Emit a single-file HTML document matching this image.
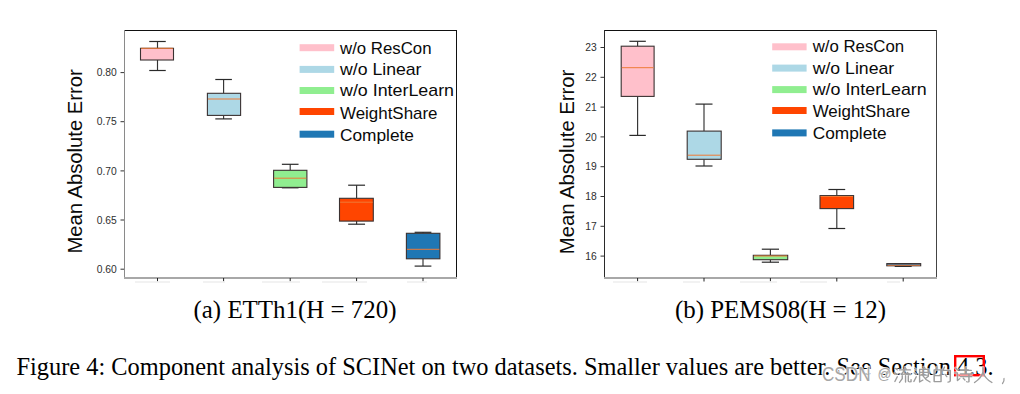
<!DOCTYPE html>
<html><head><meta charset="utf-8"><style>
html,body{margin:0;padding:0;background:#fff;width:1020px;height:394px;overflow:hidden}
svg{display:block}
</style></head><body>
<svg width="1020" height="394" viewBox="0 0 1020 394">
<line x1="157.5" y1="41.5" x2="157.5" y2="48.3" stroke="#333" stroke-width="1.15"/>
<line x1="157.5" y1="60.0" x2="157.5" y2="70.5" stroke="#333" stroke-width="1.15"/>
<line x1="149.25" y1="41.5" x2="165.75" y2="41.5" stroke="#2a2a2a" stroke-width="1.2"/>
<line x1="149.25" y1="70.5" x2="165.75" y2="70.5" stroke="#2a2a2a" stroke-width="1.2"/>
<rect x="140.5" y="48.3" width="33.0" height="11.700000000000003" fill="#ffc0cb" stroke="#3a3232" stroke-width="1.1"/>
<line x1="141.1" y1="48.3" x2="172.9" y2="48.3" stroke="#ee7a36" stroke-width="1.0"/>
<line x1="223.6" y1="79.5" x2="223.6" y2="93.3" stroke="#333" stroke-width="1.15"/>
<line x1="223.6" y1="115.4" x2="223.6" y2="118.9" stroke="#333" stroke-width="1.15"/>
<line x1="215.3" y1="79.5" x2="231.89999999999998" y2="79.5" stroke="#2a2a2a" stroke-width="1.2"/>
<line x1="215.3" y1="118.9" x2="231.89999999999998" y2="118.9" stroke="#2a2a2a" stroke-width="1.2"/>
<rect x="207.4" y="93.3" width="33.19999999999999" height="22.10000000000001" fill="#add8e6" stroke="#3a3232" stroke-width="1.1"/>
<line x1="208.0" y1="99.0" x2="240.0" y2="99.0" stroke="#ee7a36" stroke-width="1.0"/>
<line x1="290.2" y1="164.3" x2="290.2" y2="170.3" stroke="#333" stroke-width="1.15"/>
<line x1="290.2" y1="187.4" x2="290.2" y2="187.8" stroke="#333" stroke-width="1.15"/>
<line x1="281.875" y1="164.3" x2="298.525" y2="164.3" stroke="#2a2a2a" stroke-width="1.2"/>
<line x1="281.875" y1="187.8" x2="298.525" y2="187.8" stroke="#2a2a2a" stroke-width="1.2"/>
<rect x="273.6" y="170.3" width="33.299999999999955" height="17.099999999999994" fill="#90ee90" stroke="#3a3232" stroke-width="1.1"/>
<line x1="274.20000000000005" y1="178.2" x2="306.29999999999995" y2="178.2" stroke="#ee7a36" stroke-width="1.0"/>
<line x1="356.6" y1="185.2" x2="356.6" y2="198.3" stroke="#333" stroke-width="1.15"/>
<line x1="356.6" y1="221.1" x2="356.6" y2="224.2" stroke="#333" stroke-width="1.15"/>
<line x1="348.15000000000003" y1="185.2" x2="365.05" y2="185.2" stroke="#2a2a2a" stroke-width="1.2"/>
<line x1="348.15000000000003" y1="224.2" x2="365.05" y2="224.2" stroke="#2a2a2a" stroke-width="1.2"/>
<rect x="339.5" y="198.3" width="33.80000000000001" height="22.799999999999983" fill="#ff4500" stroke="#3a3232" stroke-width="1.1"/>
<line x1="340.1" y1="202.2" x2="372.7" y2="202.2" stroke="#ee7a36" stroke-width="1.0"/>
<line x1="423.0" y1="232.3" x2="423.0" y2="233.3" stroke="#333" stroke-width="1.15"/>
<line x1="423.0" y1="258.8" x2="423.0" y2="266.1" stroke="#333" stroke-width="1.15"/>
<line x1="414.625" y1="232.3" x2="431.375" y2="232.3" stroke="#2a2a2a" stroke-width="1.2"/>
<line x1="414.625" y1="266.1" x2="431.375" y2="266.1" stroke="#2a2a2a" stroke-width="1.2"/>
<rect x="406.4" y="233.3" width="33.5" height="25.5" fill="#1f77b4" stroke="#3a3232" stroke-width="1.1"/>
<line x1="407.0" y1="249.3" x2="439.29999999999995" y2="249.3" stroke="#ee7a36" stroke-width="1.0"/>
<rect x="124" y="30" width="333" height="1" fill="#111"/>
<rect x="456" y="30" width="1" height="248" fill="#111"/>
<rect x="124" y="30" width="1" height="248" fill="#8a8a8a"/>
<rect x="124" y="277" width="333" height="2" fill="#a8a8a8"/>
<line x1="120.5" y1="72.6" x2="124" y2="72.6" stroke="#333" stroke-width="1.0"/>
<text x="116.8" y="76.3" font-family="Liberation Sans" font-size="10.3" text-anchor="end" fill="#2e2e2e">0.80</text>
<line x1="120.5" y1="121.7" x2="124" y2="121.7" stroke="#333" stroke-width="1.0"/>
<text x="116.8" y="125.4" font-family="Liberation Sans" font-size="10.3" text-anchor="end" fill="#2e2e2e">0.75</text>
<line x1="120.5" y1="170.9" x2="124" y2="170.9" stroke="#333" stroke-width="1.0"/>
<text x="116.8" y="174.6" font-family="Liberation Sans" font-size="10.3" text-anchor="end" fill="#2e2e2e">0.70</text>
<line x1="120.5" y1="220.0" x2="124" y2="220.0" stroke="#333" stroke-width="1.0"/>
<text x="116.8" y="223.7" font-family="Liberation Sans" font-size="10.3" text-anchor="end" fill="#2e2e2e">0.65</text>
<line x1="120.5" y1="269.2" x2="124" y2="269.2" stroke="#333" stroke-width="1.0"/>
<text x="116.8" y="272.9" font-family="Liberation Sans" font-size="10.3" text-anchor="end" fill="#2e2e2e">0.60</text>
<line x1="157.5" y1="278" x2="157.5" y2="281.5" stroke="#222" stroke-width="1.0"/>
<line x1="223.6" y1="278" x2="223.6" y2="281.5" stroke="#222" stroke-width="1.0"/>
<line x1="290.2" y1="278" x2="290.2" y2="281.5" stroke="#222" stroke-width="1.0"/>
<line x1="356.6" y1="278" x2="356.6" y2="281.5" stroke="#222" stroke-width="1.0"/>
<line x1="423.0" y1="278" x2="423.0" y2="281.5" stroke="#222" stroke-width="1.0"/>
<rect x="299.6" y="44.2" width="34.599999999999966" height="7" fill="#ffc0cb"/>
<text x="340.0" y="53.7" font-family="Liberation Sans" font-size="16.6" text-anchor="start" fill="#0a0a0a" textLength="91.5" lengthAdjust="spacingAndGlyphs">w/o ResCon</text>
<rect x="299.6" y="65.9" width="34.599999999999966" height="7" fill="#add8e6"/>
<text x="340.0" y="75.2" font-family="Liberation Sans" font-size="16.6" text-anchor="start" fill="#0a0a0a" textLength="81.5" lengthAdjust="spacingAndGlyphs">w/o Linear</text>
<rect x="299.6" y="87.0" width="34.599999999999966" height="7" fill="#90ee90"/>
<text x="340.0" y="95.7" font-family="Liberation Sans" font-size="16.6" text-anchor="start" fill="#0a0a0a" textLength="114" lengthAdjust="spacingAndGlyphs">w/o InterLearn</text>
<rect x="299.6" y="108.0" width="34.599999999999966" height="7" fill="#ff4500"/>
<text x="340.0" y="118.5" font-family="Liberation Sans" font-size="16.6" text-anchor="start" fill="#0a0a0a" textLength="97.5" lengthAdjust="spacingAndGlyphs">WeightShare</text>
<rect x="299.6" y="130.7" width="34.599999999999966" height="7" fill="#1f77b4"/>
<text x="340.0" y="140.8" font-family="Liberation Sans" font-size="16.6" text-anchor="start" fill="#0a0a0a" textLength="74" lengthAdjust="spacingAndGlyphs">Complete</text>
<text transform="translate(82.0,253.5) rotate(-90)" x="0" y="0" font-family="Liberation Sans" font-size="19.4" fill="#0a0a0a"  textLength="184.2" lengthAdjust="spacingAndGlyphs">Mean Absolute Error</text>
<line x1="637.6" y1="41.3" x2="637.6" y2="46.2" stroke="#333" stroke-width="1.15"/>
<line x1="637.6" y1="96.4" x2="637.6" y2="135.4" stroke="#333" stroke-width="1.15"/>
<line x1="629.375" y1="41.3" x2="645.825" y2="41.3" stroke="#2a2a2a" stroke-width="1.2"/>
<line x1="629.375" y1="135.4" x2="645.825" y2="135.4" stroke="#2a2a2a" stroke-width="1.2"/>
<rect x="621.2" y="46.2" width="32.89999999999998" height="50.2" fill="#ffc0cb" stroke="#3a3232" stroke-width="1.1"/>
<line x1="621.8000000000001" y1="67.7" x2="653.5" y2="67.7" stroke="#ee7a36" stroke-width="1.0"/>
<line x1="704.0" y1="104.1" x2="704.0" y2="131.1" stroke="#333" stroke-width="1.15"/>
<line x1="704.0" y1="159.3" x2="704.0" y2="166.0" stroke="#333" stroke-width="1.15"/>
<line x1="695.5" y1="104.1" x2="712.5" y2="104.1" stroke="#2a2a2a" stroke-width="1.2"/>
<line x1="695.5" y1="166.0" x2="712.5" y2="166.0" stroke="#2a2a2a" stroke-width="1.2"/>
<rect x="687.2" y="131.1" width="34.0" height="28.200000000000017" fill="#add8e6" stroke="#3a3232" stroke-width="1.1"/>
<line x1="687.8000000000001" y1="155.2" x2="720.6" y2="155.2" stroke="#ee7a36" stroke-width="1.0"/>
<line x1="770.4" y1="249.2" x2="770.4" y2="255.3" stroke="#333" stroke-width="1.15"/>
<line x1="770.4" y1="259.7" x2="770.4" y2="262.2" stroke="#333" stroke-width="1.15"/>
<line x1="761.8" y1="249.2" x2="779.0" y2="249.2" stroke="#2a2a2a" stroke-width="1.2"/>
<line x1="761.8" y1="262.2" x2="779.0" y2="262.2" stroke="#2a2a2a" stroke-width="1.2"/>
<rect x="753.3" y="255.3" width="34.40000000000009" height="4.399999999999977" fill="#90ee90" stroke="#3a3232" stroke-width="1.1"/>
<line x1="753.9" y1="256.0" x2="787.1" y2="256.0" stroke="#ee7a36" stroke-width="1.0"/>
<line x1="836.8" y1="189.5" x2="836.8" y2="195.6" stroke="#333" stroke-width="1.15"/>
<line x1="836.8" y1="208.6" x2="836.8" y2="228.5" stroke="#333" stroke-width="1.15"/>
<line x1="828.4" y1="189.5" x2="845.1999999999999" y2="189.5" stroke="#2a2a2a" stroke-width="1.2"/>
<line x1="828.4" y1="228.5" x2="845.1999999999999" y2="228.5" stroke="#2a2a2a" stroke-width="1.2"/>
<rect x="820.0" y="195.6" width="33.60000000000002" height="13.0" fill="#ff4500" stroke="#3a3232" stroke-width="1.1"/>
<line x1="820.6" y1="196.5" x2="853.0" y2="196.5" stroke="#ee7a36" stroke-width="1.0"/>
<line x1="903.2" y1="263.6" x2="903.2" y2="263.6" stroke="#333" stroke-width="1.15"/>
<line x1="903.2" y1="265.8" x2="903.2" y2="266.4" stroke="#333" stroke-width="1.15"/>
<line x1="894.725" y1="263.6" x2="911.6750000000001" y2="263.6" stroke="#2a2a2a" stroke-width="1.2"/>
<line x1="894.725" y1="266.4" x2="911.6750000000001" y2="266.4" stroke="#2a2a2a" stroke-width="1.2"/>
<rect x="886.8" y="263.6" width="33.90000000000009" height="2.1999999999999886" fill="#1f77b4" stroke="#3a3232" stroke-width="1.1"/>
<line x1="887.4" y1="265.2" x2="920.1" y2="265.2" stroke="#ee7a36" stroke-width="1.0"/>
<rect x="604" y="30" width="333" height="1" fill="#111"/>
<rect x="936" y="30" width="1" height="248" fill="#444"/>
<rect x="604" y="30" width="1" height="248" fill="#2a2a2a"/>
<rect x="604" y="277" width="333" height="2" fill="#a8a8a8"/>
<line x1="600.5" y1="47.5" x2="604" y2="47.5" stroke="#333" stroke-width="1.0"/>
<text x="596.8" y="51.2" font-family="Liberation Sans" font-size="10.3" text-anchor="end" fill="#2e2e2e">23</text>
<line x1="600.5" y1="77.3" x2="604" y2="77.3" stroke="#333" stroke-width="1.0"/>
<text x="596.8" y="81.0" font-family="Liberation Sans" font-size="10.3" text-anchor="end" fill="#2e2e2e">22</text>
<line x1="600.5" y1="107.1" x2="604" y2="107.1" stroke="#333" stroke-width="1.0"/>
<text x="596.8" y="110.8" font-family="Liberation Sans" font-size="10.3" text-anchor="end" fill="#2e2e2e">21</text>
<line x1="600.5" y1="136.9" x2="604" y2="136.9" stroke="#333" stroke-width="1.0"/>
<text x="596.8" y="140.6" font-family="Liberation Sans" font-size="10.3" text-anchor="end" fill="#2e2e2e">20</text>
<line x1="600.5" y1="166.7" x2="604" y2="166.7" stroke="#333" stroke-width="1.0"/>
<text x="596.8" y="170.39999999999998" font-family="Liberation Sans" font-size="10.3" text-anchor="end" fill="#2e2e2e">19</text>
<line x1="600.5" y1="196.5" x2="604" y2="196.5" stroke="#333" stroke-width="1.0"/>
<text x="596.8" y="200.2" font-family="Liberation Sans" font-size="10.3" text-anchor="end" fill="#2e2e2e">18</text>
<line x1="600.5" y1="226.3" x2="604" y2="226.3" stroke="#333" stroke-width="1.0"/>
<text x="596.8" y="230.0" font-family="Liberation Sans" font-size="10.3" text-anchor="end" fill="#2e2e2e">17</text>
<line x1="600.5" y1="256.1" x2="604" y2="256.1" stroke="#333" stroke-width="1.0"/>
<text x="596.8" y="259.8" font-family="Liberation Sans" font-size="10.3" text-anchor="end" fill="#2e2e2e">16</text>
<line x1="637.6" y1="278" x2="637.6" y2="281.5" stroke="#222" stroke-width="1.0"/>
<line x1="704.0" y1="278" x2="704.0" y2="281.5" stroke="#222" stroke-width="1.0"/>
<line x1="770.4" y1="278" x2="770.4" y2="281.5" stroke="#222" stroke-width="1.0"/>
<line x1="836.8" y1="278" x2="836.8" y2="281.5" stroke="#222" stroke-width="1.0"/>
<line x1="903.2" y1="278" x2="903.2" y2="281.5" stroke="#222" stroke-width="1.0"/>
<rect x="772.2" y="43.3" width="34.39999999999998" height="7" fill="#ffc0cb"/>
<text x="812.7" y="52.3" font-family="Liberation Sans" font-size="16.6" text-anchor="start" fill="#0a0a0a" textLength="91.5" lengthAdjust="spacingAndGlyphs">w/o ResCon</text>
<rect x="772.2" y="64.6" width="34.39999999999998" height="7" fill="#add8e6"/>
<text x="812.7" y="74.1" font-family="Liberation Sans" font-size="16.6" text-anchor="start" fill="#0a0a0a" textLength="81.5" lengthAdjust="spacingAndGlyphs">w/o Linear</text>
<rect x="772.2" y="86.1" width="34.39999999999998" height="7" fill="#90ee90"/>
<text x="812.7" y="94.6" font-family="Liberation Sans" font-size="16.6" text-anchor="start" fill="#0a0a0a" textLength="114" lengthAdjust="spacingAndGlyphs">w/o InterLearn</text>
<rect x="772.2" y="107.0" width="34.39999999999998" height="7" fill="#ff4500"/>
<text x="812.7" y="116.9" font-family="Liberation Sans" font-size="16.6" text-anchor="start" fill="#0a0a0a" textLength="97.5" lengthAdjust="spacingAndGlyphs">WeightShare</text>
<rect x="772.2" y="129.4" width="34.39999999999998" height="7" fill="#1f77b4"/>
<text x="812.7" y="139.1" font-family="Liberation Sans" font-size="16.6" text-anchor="start" fill="#0a0a0a" textLength="74" lengthAdjust="spacingAndGlyphs">Complete</text>
<text transform="translate(574.0,254.2) rotate(-90)" x="0" y="0" font-family="Liberation Sans" font-size="19.4" fill="#0a0a0a"  textLength="184.5" lengthAdjust="spacingAndGlyphs">Mean Absolute Error</text>
<text x="193.5" y="318" font-family="Liberation Serif" font-size="24.6" text-anchor="start" fill="#000" textLength="203" lengthAdjust="spacingAndGlyphs">(a) ETTh1(H = 720)</text>
<text x="675" y="318" font-family="Liberation Serif" font-size="24.6" text-anchor="start" fill="#000" textLength="211" lengthAdjust="spacingAndGlyphs">(b) PEMS08(H = 12)</text>
<text x="16.5" y="374.5" font-family="Liberation Serif" font-size="24.3" text-anchor="start" fill="#000" textLength="977" lengthAdjust="spacingAndGlyphs">Figure 4: Component analysis of SCINet on two datasets. Smaller values are better. See Section 4.3.</text>
<rect x="955.2" y="356.2" width="28.6" height="19" fill="none" stroke="#ff0000" stroke-width="2.4"/>
<rect x="135" y="281.2" width="35" height="1.6" fill="#efefef"/>
<rect x="203" y="281.2" width="22" height="1.6" fill="#efefef"/>
<rect x="262" y="281.2" width="38" height="1.6" fill="#efefef"/>
<rect x="322" y="281.2" width="45" height="1.6" fill="#efefef"/>
<rect x="407" y="281.2" width="20" height="1.6" fill="#efefef"/>
<rect x="613" y="281.2" width="34" height="1.6" fill="#efefef"/>
<rect x="683" y="281.2" width="17" height="1.6" fill="#efefef"/>
<rect x="740" y="281.2" width="37" height="1.6" fill="#efefef"/>
<rect x="800" y="281.2" width="27" height="1.6" fill="#efefef"/>
<rect x="887" y="281.2" width="13" height="1.6" fill="#efefef"/>

<g fill="none" stroke-linecap="round" stroke-linejoin="round">
<g stroke="#ffffff" stroke-width="3" opacity="0.6">
<path transform="translate(894,367) scale(1.1,0.97)" d="M1.5 1.5L3 3M1 6L2.5 7.5M0.8 15L3 10M10 0.3L11 2M5 3H15M9.5 3.5L6.5 7.5L14 7M12 5.5L14.5 8M7.5 9V12L5 16M10.5 9V15.5M13 9V14.5Q13 15.5 15.5 15.2V13"/>
<path transform="translate(913,367) scale(1.1,0.97)" d="M1.5 1.5L3 3M1 6L2.5 7.5M0.8 15L3 10M10 0L11 1.5M6 2.5H14V8.5H6V2.5M6 5.5H14M6 8.5V15.5L9 13.5M9 9Q11 13 15.5 15.5M14 9.5L11.5 11.5"/>
<path transform="translate(933,367) scale(1.15,0.97)" d="M3.5 0L2.5 2.5M1 3H7V15H1V3M1 9H7M10 0L8.5 4M9 3.5H15V14Q15 15.5 13 15.5M10.5 7.5L12 10"/>
<path transform="translate(954,367) scale(1.15,0.97)" d="M1.5 1L3 3M0.5 6H3V14L5 12M6 3.5H15M10.5 0.5V7M5.5 7H15.5M5.5 10H15.5M13 7.5V15Q13 15.8 11 15.2M8 11.5L9.5 13.5"/>
<path transform="translate(974,367) scale(1.12,0.97)" d="M8 0.5V5Q7 11 0.5 16M8 5.5Q10 12 16 16"/>
<path transform="translate(1001.5,378)" d="M2.5 0.5Q3 3 1 5.5"/>
</g>
</g>


<g fill="none" stroke-linecap="round" stroke-linejoin="round">
<g stroke="#9c9c9c" stroke-width="1.25">
<path transform="translate(894,367) scale(1.1,0.97)" d="M1.5 1.5L3 3M1 6L2.5 7.5M0.8 15L3 10M10 0.3L11 2M5 3H15M9.5 3.5L6.5 7.5L14 7M12 5.5L14.5 8M7.5 9V12L5 16M10.5 9V15.5M13 9V14.5Q13 15.5 15.5 15.2V13"/>
<path transform="translate(913,367) scale(1.1,0.97)" d="M1.5 1.5L3 3M1 6L2.5 7.5M0.8 15L3 10M10 0L11 1.5M6 2.5H14V8.5H6V2.5M6 5.5H14M6 8.5V15.5L9 13.5M9 9Q11 13 15.5 15.5M14 9.5L11.5 11.5"/>
<path transform="translate(933,367) scale(1.15,0.97)" d="M3.5 0L2.5 2.5M1 3H7V15H1V3M1 9H7M10 0L8.5 4M9 3.5H15V14Q15 15.5 13 15.5M10.5 7.5L12 10"/>
<path transform="translate(954,367) scale(1.15,0.97)" d="M1.5 1L3 3M0.5 6H3V14L5 12M6 3.5H15M10.5 0.5V7M5.5 7H15.5M5.5 10H15.5M13 7.5V15Q13 15.8 11 15.2M8 11.5L9.5 13.5"/>
<path transform="translate(974,367) scale(1.12,0.97)" d="M8 0.5V5Q7 11 0.5 16M8 5.5Q10 12 16 16"/>
<path transform="translate(1001.5,378)" d="M2.5 0.5Q3 3 1 5.5"/>
</g>
</g>

<text x="822" y="380.8" font-family="Liberation Sans" font-size="20.5" fill="#a6a6a6" stroke="#fff" stroke-width="2.4" stroke-opacity="0.8" paint-order="stroke" textLength="48.5" lengthAdjust="spacingAndGlyphs">CSDN</text>
<text x="877.5" y="379" font-family="Liberation Sans" font-size="15" fill="#a6a6a6" stroke="#fff" stroke-width="2.2" stroke-opacity="0.8" paint-order="stroke" textLength="14" lengthAdjust="spacingAndGlyphs">@</text>
</svg>
</body></html>
